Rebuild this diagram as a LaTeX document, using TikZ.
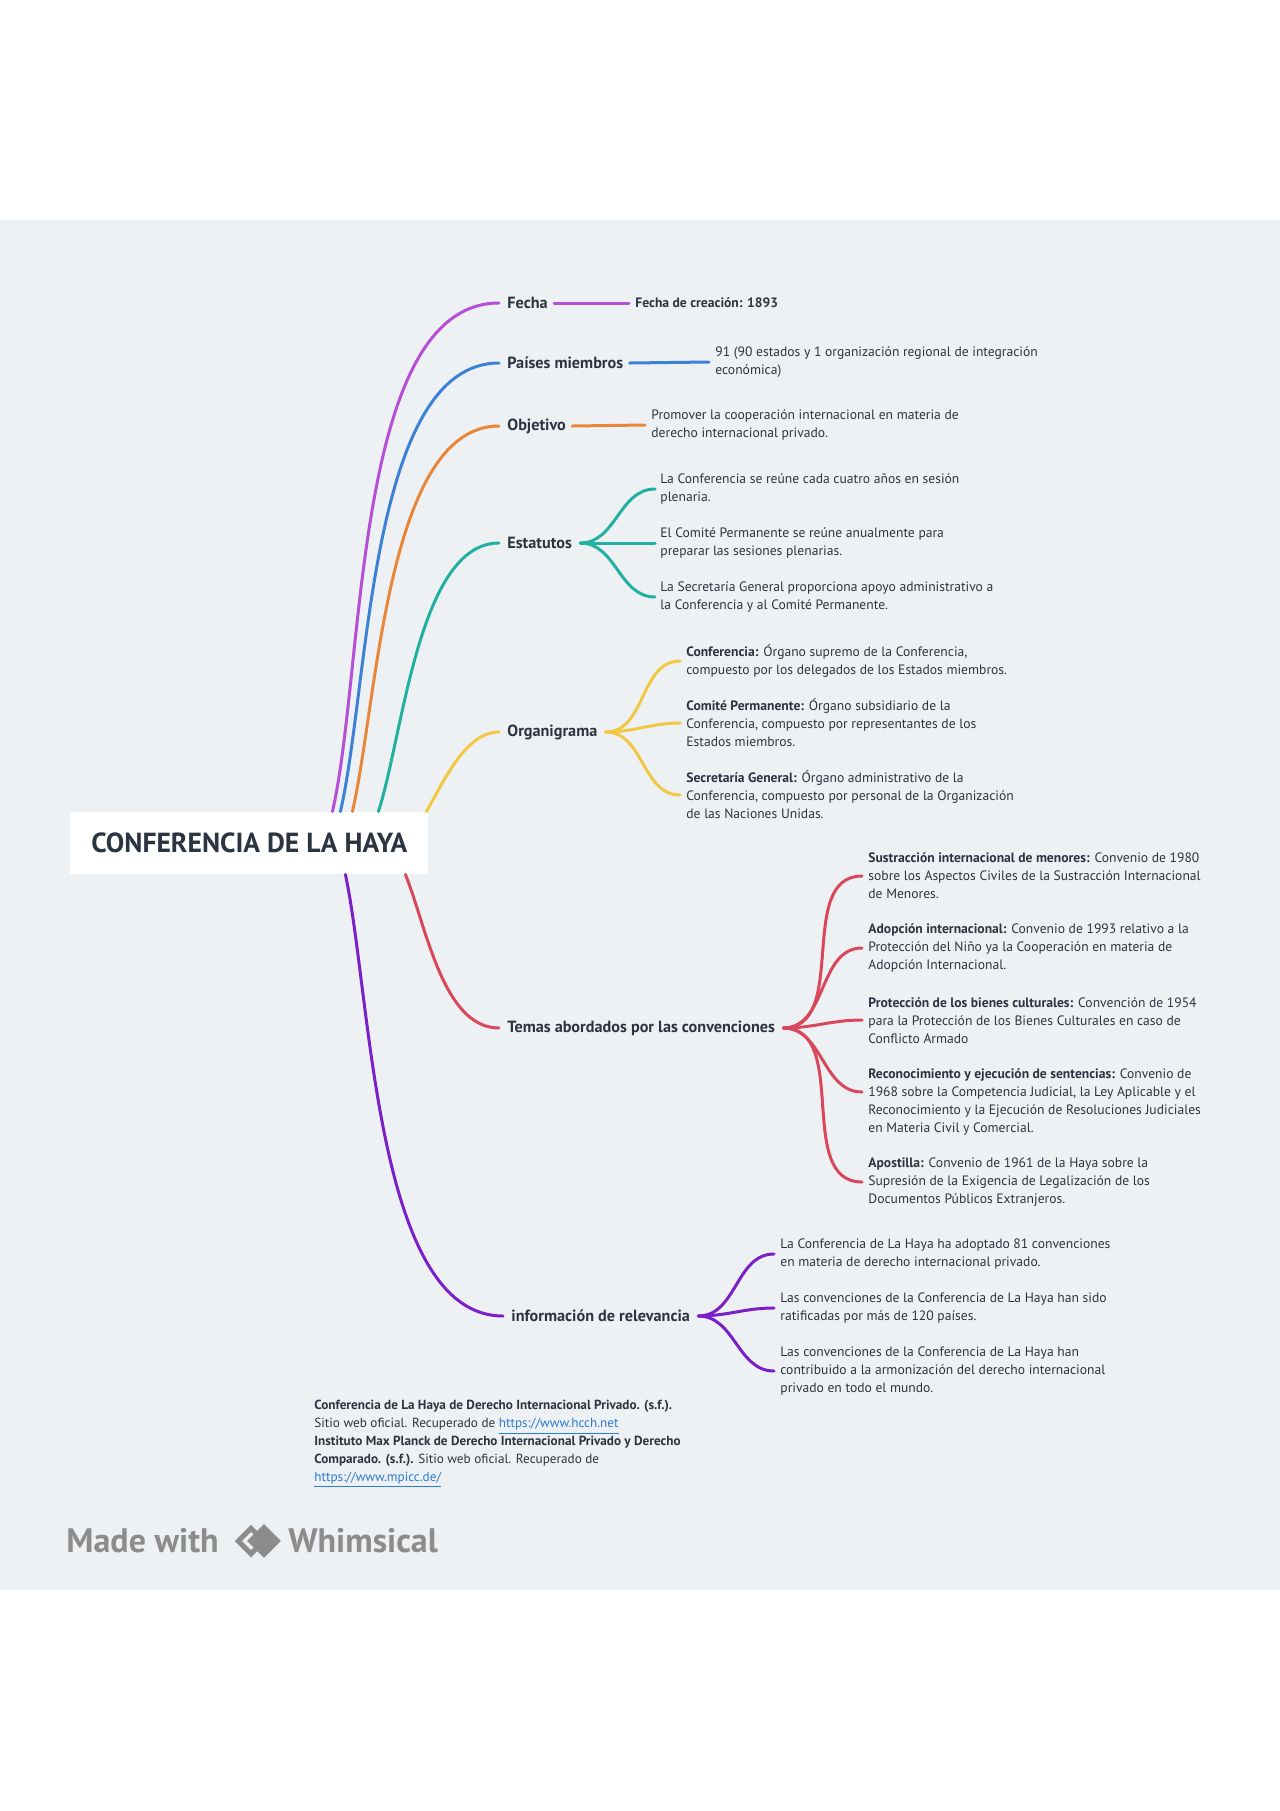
\documentclass[tikz,border=0pt]{standalone}
\usepackage{fontspec}
\setmainfont{PT Sans}
\usetikzlibrary{calc}
\definecolor{bg}{HTML}{EEF1F4}
\definecolor{tx}{HTML}{2B3440}
\definecolor{cA}{HTML}{B44FD6}
\definecolor{cB}{HTML}{3B82D6}
\definecolor{cC}{HTML}{E8873A}
\definecolor{cD}{HTML}{22B0A0}
\definecolor{cE}{HTML}{F2C744}
\definecolor{cF}{HTML}{D9475A}
\definecolor{cG}{HTML}{7B1FC8}
\definecolor{lnk}{HTML}{2A7BD6}
\begin{document}
\begin{tikzpicture}[x=0.5pt,y=-0.5pt,
  lbl/.style={anchor=west,inner sep=1pt,font=\fontsize{8.1}{9}\selectfont\bfseries,text=tx},
  leaf/.style={anchor=west,inner sep=0pt,align=left,font=\fontsize{6.8}{9}\selectfont,text=tx},
  br/.style={line width=1.5pt,line cap=round}]
\fill[white] (0,0) rectangle (1280,1811);
\fill[bg] (0,220) rectangle (1280,1590);
\useasboundingbox (0,0) rectangle (1280,1811);
\node[fill=white,minimum width=179pt,minimum height=31pt,inner sep=0pt] (root) at (249,843) {};
\node[anchor=west,inner sep=0pt,font=\fontsize{13.8}{14}\selectfont\bfseries,text=tx] (roott) at (91,843) {CONFERENCIA DE LA HAYA};
% labels
\node[lbl] (fecha) at (505,303) {Fecha};
\node[lbl] (paises) at (505,363) {Países miembros};
\node[lbl] (obj) at (505,426) {Objetivo};
\node[lbl] (est) at (505,543) {Estatutos};
\node[lbl] (org) at (505,732) {Organigrama};
\node[lbl] (tem) at (505,1028) {Temas abordados por las convenciones};
\node[lbl] (inf) at (509,1316) {información de relevancia};
% root curves
\draw[br,cA] ($(root.north east)+(-96,0)$) to[out=77,in=180,looseness=0.7] ($(fecha.west)+(-6,0)$);
\draw[br,cB] ($(root.north east)+(-88,0)$) to[out=77,in=180,looseness=0.7] ($(paises.west)+(-6,0)$);
\draw[br,cC] ($(root.north east)+(-76,0)$) to[out=77,in=180,looseness=0.7] ($(obj.west)+(-6,0)$);
\draw[br,cD] ($(root.north east)+(-50,0)$) to[out=72,in=180,looseness=0.7] ($(est.west)+(-6,0)$);
\draw[br,cE] ($(root.north east)+(-2,0)$) to[out=60,in=180,looseness=0.8] ($(org.west)+(-6,0)$);
\draw[br,cF] ($(root.south east)+(-23,0)$) to[out=-68,in=180,looseness=0.8] ($(tem.west)+(-6,0)$);
\draw[br,cG] ($(root.south east)+(-83,0)$) to[out=-78,in=180,looseness=0.7] ($(inf.west)+(-6,0)$);
% Fecha
\node[leaf,font=\fontsize{6.8}{9}\selectfont\bfseries] (f1) at (635,303) {Fecha de creación: 1893};
\draw[br,cA] ($(fecha.east)+(4,0)$) -- ($(f1.west)+(-6,0)$);
% Paises
\node[leaf] (p1) at (715,362) {91 (90 estados y 1 organización regional de integración\\económica)};
\draw[br,cB] ($(paises.east)+(4,0)$) -- ($(p1.west)+(-6,0)$);
% Objetivo
\node[leaf] (o1) at (651,425) {Promover la cooperación internacional en materia de\\derecho internacional privado.};
\draw[br,cC] ($(obj.east)+(4,0)$) -- ($(o1.west)+(-6,0)$);
% Estatutos
\coordinate (eh) at ($(est.east)+(6,0)$);
\node[leaf] (e1) at (660,489) {La Conferencia se reúne cada cuatro años en sesión\\plenaria.};
\node[leaf] (e2) at (660,543) {El Comité Permanente se reúne anualmente para\\preparar las sesiones plenarias.};
\node[leaf] (e3) at (660,597) {La Secretaría General proporciona apoyo administrativo a\\la Conferencia y al Comité Permanente.};
\foreach \n in {e1,e2,e3} \draw[br,cD] (eh) to[out=0,in=180] ($(\n.west)+(-5,0)$);
% Organigrama
\coordinate (oh) at ($(org.east)+(6,0)$);
\node[leaf] (g1) at (686,661) {\textbf{Conferencia:} Órgano supremo de la Conferencia,\\compuesto por los delegados de los Estados miembros.};
\node[leaf] (g2) at (686,723) {\textbf{Comité Permanente:} Órgano subsidiario de la\\Conferencia, compuesto por representantes de los\\Estados miembros.};
\node[leaf] (g3) at (686,795) {\textbf{Secretaría General:} Órgano administrativo de la\\Conferencia, compuesto por personal de la Organización\\de las Naciones Unidas.};
\foreach \n in {g1,g2,g3} \draw[br,cE] (oh) to[out=0,in=180] ($(\n.west)+(-6,0)$);
% Temas
\coordinate (th) at ($(tem.east)+(6,0)$);
\node[leaf] (t1) at (868,876) {\textbf{Sustracción internacional de menores:} Convenio de 1980\\sobre los Aspectos Civiles de la Sustracción Internacional\\de Menores.};
\node[leaf] (t2) at (868,948) {\textbf{Adopción internacional:} Convenio de 1993 relativo a la\\Protección del Niño ya la Cooperación en materia de\\Adopción Internacional.};
\node[leaf] (t3) at (868,1021) {\textbf{Protección de los bienes culturales:} Convención de 1954\\para la Protección de los Bienes Culturales en caso de\\Conflicto Armado};
\node[leaf] (t4) at (868,1102) {\textbf{Reconocimiento y ejecución de sentencias:} Convenio de\\1968 sobre la Competencia Judicial, la Ley Aplicable y el\\Reconocimiento y la Ejecución de Resoluciones Judiciales\\en Materia Civil y Comercial.};
\node[leaf] (t5) at (868,1182) {\textbf{Apostilla:} Convenio de 1961 de la Haya sobre la\\Supresión de la Exigencia de Legalización de los\\Documentos Públicos Extranjeros.};
\draw[br,cF] (th) to[out=0,in=180] ($(t1.west)+(-6,0)$);
\draw[br,cF] (th) to[out=0,in=180] ($(t2.west)+(-6,0)$);
\draw[br,cF] (th) to[out=0,in=180] ($(t3.west)+(-6,-1)$);
\draw[br,cF] (th) to[out=0,in=180] ($(t4.west)+(-6,-10)$);
\draw[br,cF] (th) to[out=0,in=180] ($(t5.west)+(-6,0)$);
% Informacion
\coordinate (ih) at ($(inf.east)+(6,0)$);
\node[leaf] (i1) at (780,1254) {La Conferencia de La Haya ha adoptado 81 convenciones\\en materia de derecho internacional privado.};
\node[leaf] (i2) at (780,1308) {Las convenciones de la Conferencia de La Haya han sido\\ratificadas por más de 120 países.};
\node[leaf] (i3) at (780,1371) {Las convenciones de la Conferencia de La Haya han\\contribuido a la armonización del derecho internacional\\privado en todo el mundo.};
\foreach \n in {i1,i2,i3} \draw[br,cG] (ih) to[out=0,in=180] ($(\n.west)+(-6,0)$);
% references
\node[leaf,anchor=north west,font=\fontsize{6.6}{8.9}\selectfont] (ref) at (314,1400) {\textbf{Conferencia de La Haya de Derecho Internacional Privado. (s.f.).}\\Sitio web oficial. Recuperado de {\color{lnk}\underline{https://www.hcch.net}}\\\textbf{Instituto Max Planck de Derecho Internacional Privado y Derecho}\\\textbf{Comparado. (s.f.).} Sitio web oficial. Recuperado de\\{\color{lnk}\underline{https://www.mpicc.de/}}};
% footer
\node[anchor=west,inner sep=0pt,font=\fontsize{17}{18}\selectfont\bfseries,text=black!45] (made) at (66,1541) {Made with};
\node[anchor=west,inner sep=0pt,font=\fontsize{17}{18}\selectfont\bfseries,text=black!45] (wh) at (288,1541) {Whimsical};
\fill[black!45,rotate around={45:(264,1541)}] (252,1529) rectangle (276,1553);
\draw[black!45,line width=2.5pt,rotate around={45:(251,1541)}] (242,1532) rectangle (260,1550);
\end{tikzpicture}
\end{document}
